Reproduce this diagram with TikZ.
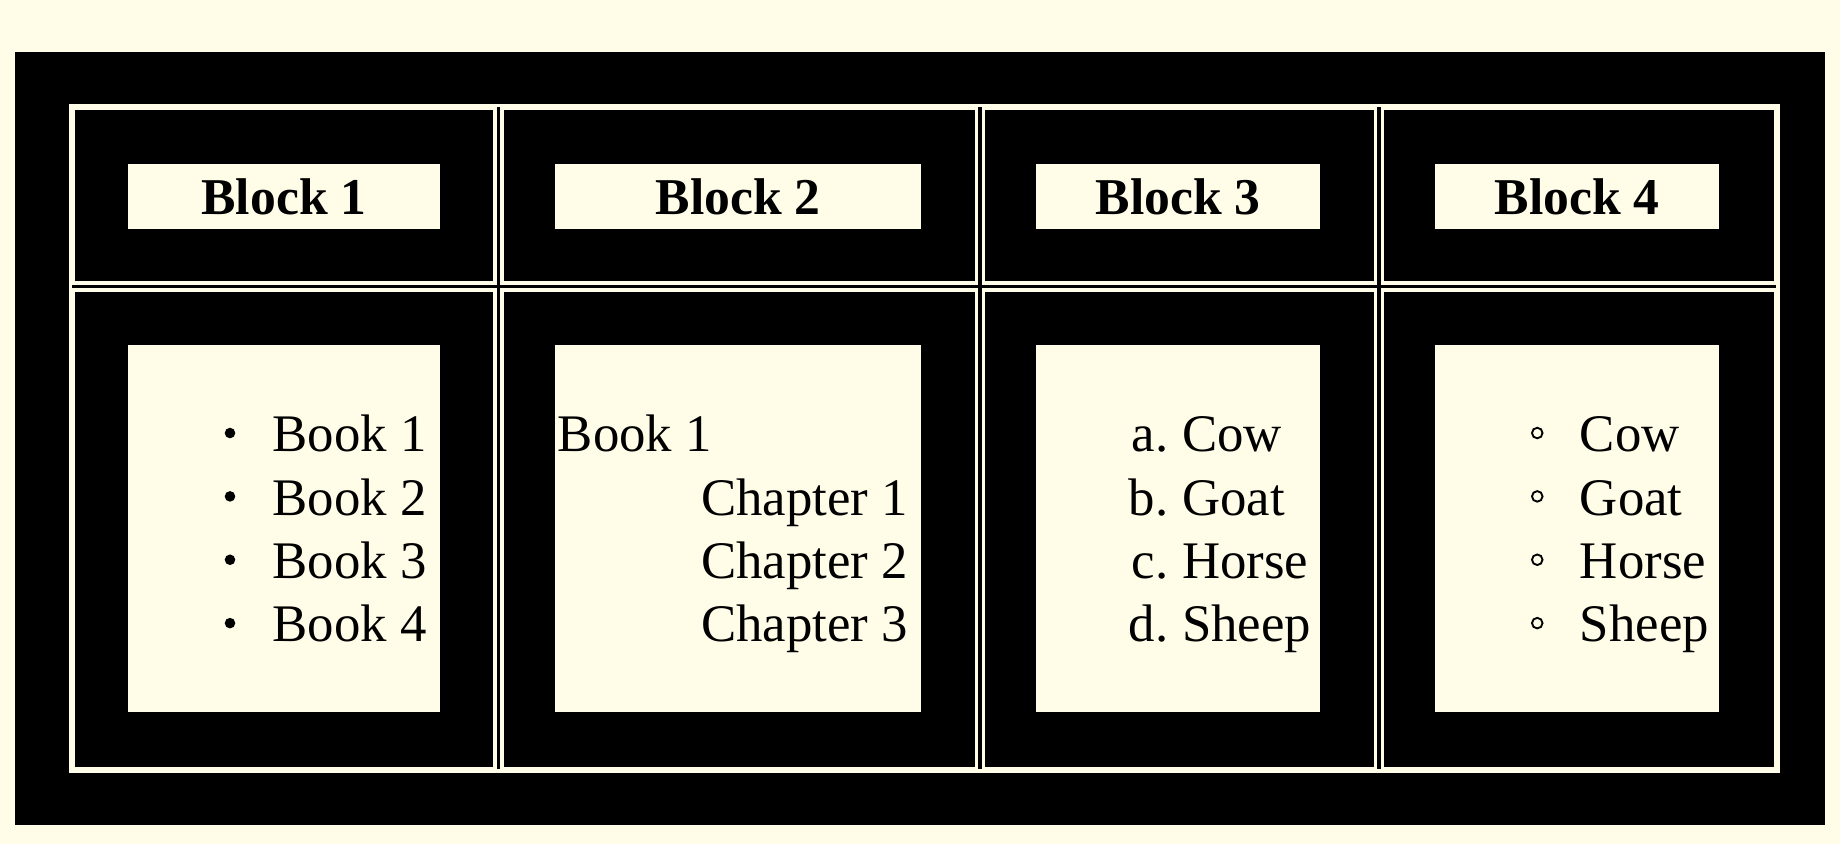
\documentclass[tikz,border=0pt]{standalone}
\usepackage{fontspec}
\setmainfont{Liberation Serif}
\definecolor{cream}{HTML}{FFFDE8}
\begin{document}
\begin{tikzpicture}[x=0.5pt,y=-0.5pt,
  cell/.style={draw=cream,line width=1.5pt},
  box/.style={fill=cream},
  hd/.style={font=\fontsize{22}{26}\selectfont\bfseries,anchor=base},
  it/.style={font=\fontsize{22.5}{27}\selectfont,anchor=base west,inner sep=0},
  lb/.style={font=\fontsize{22.5}{27}\selectfont,anchor=base east,inner sep=0}]
\fill[cream] (0,0) rectangle (1568,719);
\useasboundingbox (0,0) rectangle (1568,719);
\fill[black] (13,44) rectangle (1555,703);
\draw[cell] (60,90) rectangle (1515,657);
\foreach \a/\b in {62/422,428/832,838/1172,1178/1513}{
  \draw[cell] (\a,92) rectangle (\b,241);
  \draw[cell] (\a,247) rectangle (\b,655);
}
\foreach \n/\a/\b in {1/109/375,2/473/785,3/883/1125,4/1223/1465}{
  \fill[cream] (\a,140) rectangle (\b,195);
  \fill[cream] (\a,294) rectangle (\b,607);
  \node[hd] (h\n) at ({(\a+\b)/2},183) {Block \n};
}
% col1
\foreach \i/\y in {1/385,2/439,3/493,4/547}{
  \fill (196,{\y-16}) circle (4.5);
  \node[it] (b\i) at (232,\y) {Book \i};
}
% col2
\node[it] (c0) at (475,385) {Book 1};
\foreach \i/\y in {1/439,2/493,3/547}{
  \node[it] (c\i) at (597,\y) {Chapter \i};
}
% col3
\foreach \l/\w/\y in {a/Cow/385,b/Goat/439,c/Horse/493,d/Sheep/547}{
  \node[lb] (l\l) at (996,\y) {\l.};
  \node[it] (w\l) at (1007,\y) {\w};
}
% col4
\foreach \w/\y in {Cow/385,Goat/439,Horse/493,Sheep/547}{
  \draw[line width=0.8pt] (1310,{\y-16}) circle (4.5);
  \node[it] (v\w) at (1346,\y) {\w};
}
\end{tikzpicture}
\end{document}
